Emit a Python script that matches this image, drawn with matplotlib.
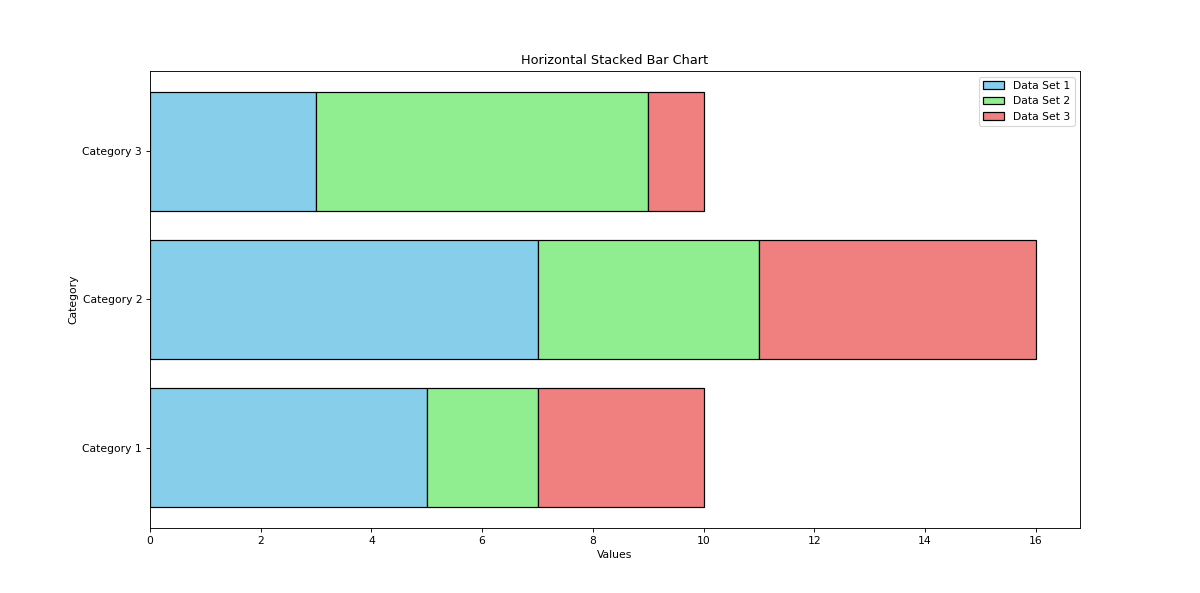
import matplotlib
matplotlib.use("Agg")
import matplotlib.pyplot as plt
import numpy as np

categories = ["Category 1", "Category 2", "Category 3"]
data_set_1 = [5, 7, 3]
data_set_2 = [2, 4, 6]
data_set_3 = [3, 5, 1]
series_labels = ["Data Set 1", "Data Set 2", "Data Set 3"]
colors = ["skyblue", "lightgreen", "lightcoral"]

plt.rcParams["font.size"] = 9.7
fig, ax = plt.subplots(figsize=(15, 7.4125), dpi=80)
left = np.zeros(len(categories))
for vals, lab, col in zip([data_set_1, data_set_2, data_set_3], series_labels, colors):
    ax.barh(categories, vals, left=left, color=col, edgecolor="black", linewidth=1.1, label=lab)
    left += np.array(vals)

ax.set_xlabel("Values")
ax.set_ylabel("Category")
ax.set_title("Horizontal Stacked Bar Chart")
ax.legend(loc="upper right")
fig.savefig("out.png", dpi=80)
